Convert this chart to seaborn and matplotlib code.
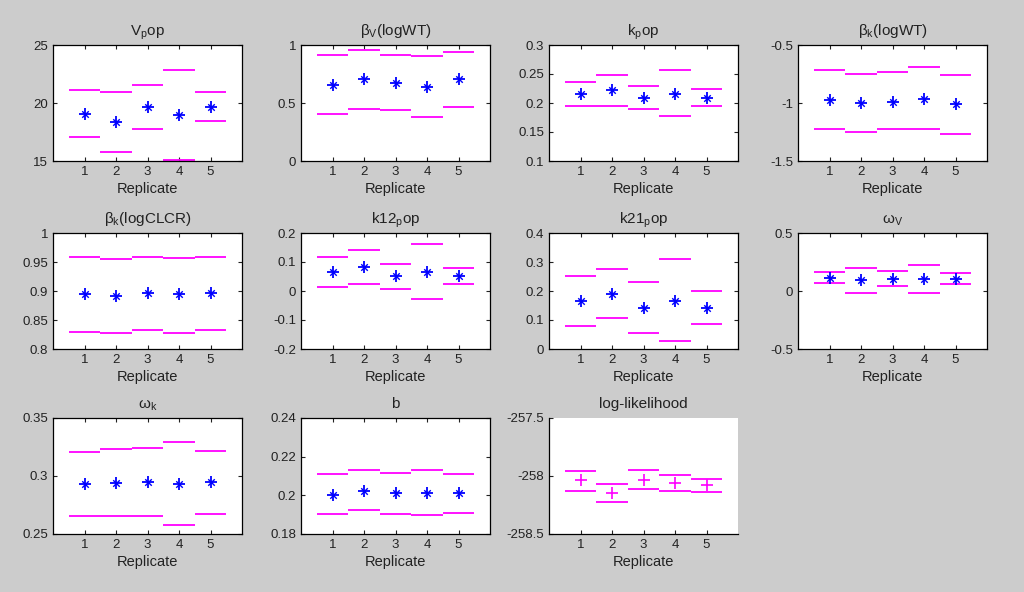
import numpy as np
import pandas as pd
import seaborn as sns
import matplotlib.pyplot as plt
from matplotlib.ticker import FormatStrFormatter

sns.set_style('ticks')
plt.rcParams['font.family'] = ['Liberation Sans', 'DejaVu Sans']
plt.rcParams['mathtext.default'] = 'regular'

replicates = [1, 2, 3, 4, 5]

titles = ['V$_p$op', 'β$_V$(logWT)', 'k$_p$op', 'β$_k$(logWT)',
          'β$_k$(logCLCR)', 'k12$_p$op', 'k21$_p$op', 'ω$_V$',
          'ω$_k$', 'b', 'log-likelihood']

# point estimates per replicate
vpop_est = [19.06, 18.38, 19.66, 18.98, 19.66]
betav_est = [0.657, 0.703, 0.669, 0.634, 0.703]
kpop_est = [0.215, 0.222, 0.208, 0.216, 0.208]
betak_wt_est = [-0.977, -0.998, -0.991, -0.969, -1.007]
betak_clcr_est = [0.894, 0.892, 0.896, 0.894, 0.896]
k12_est = [0.067, 0.083, 0.052, 0.067, 0.052]
k21_est = [0.167, 0.191, 0.140, 0.167, 0.140]
omega_v_est = [0.115, 0.097, 0.105, 0.105, 0.105]
omega_k_est = [0.2928, 0.2937, 0.2948, 0.2928, 0.2948]
b_est = [0.2003, 0.2021, 0.2010, 0.2010, 0.2010]
loglik_est = [-258.037, -258.149, -258.032, -258.060, -258.080]

# upper / lower interval bounds per replicate
vpop_hi = [21.14, 20.91, 21.59, 22.84, 20.91]
vpop_lo = [17.07, 15.77, 17.73, 15.08, 18.41]
betav_hi = [0.917, 0.957, 0.917, 0.906, 0.940]
betav_lo = [0.409, 0.451, 0.440, 0.383, 0.463]
kpop_hi = [0.2366, 0.2480, 0.2286, 0.2566, 0.2234]
kpop_lo = [0.1954, 0.1954, 0.1897, 0.1777, 0.1954]
betak_wt_hi = [-0.717, -0.749, -0.737, -0.689, -0.760]
betak_wt_lo = [-1.226, -1.246, -1.226, -1.226, -1.263]
betak_clcr_hi = [0.9594, 0.9548, 0.9594, 0.9570, 0.9594]
betak_clcr_lo = [0.8300, 0.8284, 0.8325, 0.8284, 0.8325]
k12_hi = [0.1188, 0.1420, 0.0945, 0.1617, 0.0794]
k12_lo = [0.0145, 0.0238, 0.0064, -0.0284, 0.0238]
k21_hi = [0.2516, 0.2748, 0.2307, 0.3107, 0.1994]
k21_lo = [0.0800, 0.1078, 0.0545, 0.0267, 0.0858]
omega_v_hi = [0.1667, 0.1986, 0.1754, 0.2246, 0.1580]
omega_v_lo = [0.0652, -0.0130, 0.0391, -0.0130, 0.0565]
omega_k_hi = [0.3207, 0.3233, 0.3244, 0.3293, 0.3213]
omega_k_lo = [0.2652, 0.2652, 0.2652, 0.2578, 0.2672]
b_hi = [0.2110, 0.2129, 0.2117, 0.2129, 0.2110]
b_lo = [0.1905, 0.1924, 0.1905, 0.1898, 0.1910]
loglik_hi = [-257.960, -258.070, -257.951, -257.994, -258.023]
loglik_lo = [-258.132, -258.220, -258.109, -258.129, -258.141]

estimates = [vpop_est, betav_est, kpop_est, betak_wt_est, betak_clcr_est, k12_est,
             k21_est, omega_v_est, omega_k_est, b_est, loglik_est]
uppers = [vpop_hi, betav_hi, kpop_hi, betak_wt_hi, betak_clcr_hi, k12_hi,
          k21_hi, omega_v_hi, omega_k_hi, b_hi, loglik_hi]
lowers = [vpop_lo, betav_lo, kpop_lo, betak_wt_lo, betak_clcr_lo, k12_lo,
          k21_lo, omega_v_lo, omega_k_lo, b_lo, loglik_lo]

ylims = [(15, 25), (0, 1), (0.1, 0.3), (-1.5, -0.5), (0.8, 1), (-0.2, 0.2),
         (0, 0.4), (-0.5, 0.5), (0.25, 0.35), (0.18, 0.24), (-258.5, -257.5)]
yticks = [[15, 20, 25], [0, 0.5, 1], [0.1, 0.15, 0.2, 0.25, 0.3], [-1.5, -1, -0.5],
          [0.8, 0.85, 0.9, 0.95, 1], [-0.2, -0.1, 0, 0.1, 0.2], [0, 0.1, 0.2, 0.3, 0.4],
          [-0.5, 0, 0.5], [0.25, 0.3, 0.35], [0.18, 0.2, 0.22, 0.24],
          [-258.5, -258, -257.5]]

fig = plt.figure(figsize=(10.24, 5.92), dpi=100, facecolor='#cccccc')

lefts = [53, 301, 549, 798]
tops = [45, 233, 418]
text_col = '#222222'

for i in range(11):
    r, c = divmod(i, 4)
    ax = fig.add_axes([lefts[c] / 1024, (592 - tops[r] - 116) / 592, 189 / 1024, 116 / 592])
    ax.set_facecolor('white')
    df = pd.DataFrame({'rep': replicates, 'est': estimates[i]})
    reps = np.array(replicates)
    ax.hlines(uppers[i], reps - 0.5, reps + 0.5, color='#ff00ff', lw=1.3)
    ax.hlines(lowers[i], reps - 0.5, reps + 0.5, color='#ff00ff', lw=1.3)
    if i == 10:
        sns.scatterplot(data=df, x='rep', y='est', marker='+', color='#ff00ff',
                        s=70, linewidth=1.2, ax=ax, zorder=3)
        ax.spines['top'].set_visible(False)
        ax.spines['right'].set_visible(False)
        ax.tick_params(direction='in', top=False, right=False)
    else:
        # asterisk: a plus plus a thinner cross
        sns.scatterplot(data=df, x='rep', y='est', marker='+', color='#0000ff',
                        s=75, linewidth=1.3, ax=ax, zorder=3)
        sns.scatterplot(data=df, x='rep', y='est', marker='x', color='#0000ff',
                        s=22, linewidth=1.0, ax=ax, zorder=3)
        ax.tick_params(direction='in', top=True, right=True)
    for sp in ax.spines.values():
        sp.set_color('black')
        sp.set_linewidth(0.9)
    ax.set_xlim(0, 6)
    ax.set_xticks(replicates)
    ax.set_ylim(*ylims[i])
    ax.set_yticks(yticks[i])
    ax.yaxis.set_major_formatter(FormatStrFormatter('%g'))
    ax.tick_params(labelsize=9.5, colors=text_col, length=3, width=0.8)
    ax.set_xlabel('Replicate', fontsize=10.5, color=text_col, labelpad=3)
    ax.set_ylabel('')
    ax.set_title(titles[i], fontsize=11, color=text_col, pad=7)

fig.savefig('out.png', dpi=100, facecolor=fig.get_facecolor())
